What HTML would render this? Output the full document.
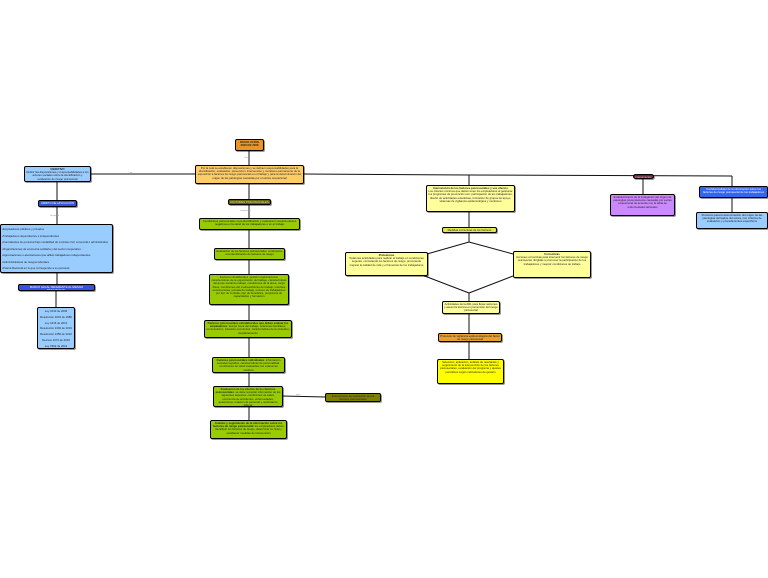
<!DOCTYPE html>
<html><head><meta charset="utf-8"><style>
html,body{margin:0;padding:0;background:#fff;width:768px;height:578px;overflow:hidden;position:relative;font-family:"Liberation Sans",sans-serif;}
.b{position:absolute;box-sizing:border-box;border:1.3px solid #000;border-radius:2px;font-size:2.8px;line-height:3.2px;text-align:center;color:#222;overflow:hidden;padding:1px;box-shadow:1px 1px 0 rgba(0,0,0,.4);}
.g{background:#99cc00;}
.y{background:#ffff99;}
.lb{background:#99ccff;}
.db{background:#3355dd;color:#fff;}
.ol{background:#666600;color:#ddd;}
.t{font-size:2.2px;color:#888;position:absolute;}
</style></head><body>
<svg width="768" height="578" style="position:absolute;left:0;top:0" xmlns="http://www.w3.org/2000/svg">
<g stroke="#111" stroke-width="1" fill="none">
<line x1="249" y1="150" x2="249" y2="165"/>
<line x1="90" y1="174" x2="195" y2="174"/>
<line x1="303" y1="174" x2="469" y2="175"/>
<line x1="469" y1="175" x2="732" y2="176"/>
<line x1="469" y1="175" x2="469" y2="185"/>
<line x1="643" y1="178" x2="643" y2="194"/>
<line x1="732" y1="176" x2="732" y2="186"/>
<line x1="732" y1="197" x2="732" y2="212"/>
<line x1="57" y1="181" x2="57" y2="200"/>
<line x1="57" y1="206" x2="57" y2="224"/>
<line x1="57" y1="272" x2="57" y2="284"/>
<line x1="56" y1="290" x2="56" y2="307"/>
<line x1="249" y1="183" x2="249" y2="420"/>
<line x1="282" y1="396" x2="325" y2="397"/>
<line x1="469" y1="211" x2="469" y2="242"/>
<line x1="469" y1="242" x2="427" y2="254"/>
<line x1="469" y1="242" x2="513" y2="254"/>
<line x1="422" y1="275" x2="469" y2="293"/>
<line x1="513" y1="276" x2="469" y2="293"/>
<line x1="469" y1="293" x2="469" y2="359"/>
</g></svg>
<div class="b" style="left:235px;top:139px;width:29px;height:12px;background:#e8962a;font-weight:bold;font-size:2.8px;color:#222;">RESOLUCIÓN 2646 DE 2008</div>
<div class="t" style="left:244px;top:157px;">Tiene</div>
<div class="b" style="left:195px;top:165px;width:109px;height:19px;background:#ffcc66;">Por la cual se establecen disposiciones y se definen responsabilidades para la identificación, evaluación, prevención, intervención y monitoreo permanente de la exposición a factores de riesgo psicosocial en el trabajo y para la determinación del origen de las patologías causadas por el estrés ocupacional</div>
<div class="b lb" style="left:24px;top:166px;width:67px;height:16px;"><b>OBJETIVO</b><br>Definir las disposiciones y responsabilidades a los actores sociales sobre la identificación y evaluación de riesgo psicosocial</div>
<div class="t" style="left:130px;top:172px;">es</div>
<div class="b db" style="left:38px;top:200px;width:39px;height:7px;">ÁMBITO DE APLICACIÓN</div>
<div class="t" style="left:50px;top:215px;">Se aplica</div>
<div class="b lb" style="left:0px;top:224px;width:113px;height:49px;text-align:left;line-height:6.5px;">•Empleadores públicos y privados<br>•Trabajadores dependientes e independientes<br>•Contratantes de personal bajo modalidad de contrato civil, comercial o administrativo<br>•Organizaciones de economía solidaria y del sector cooperativo<br>•Agremiaciones o asociaciones que afilian trabajadores independientes<br>•Administradoras de riesgos laborales<br>•Policía Nacional en lo que corresponde a su personal</div>
<div class="b db" style="left:18px;top:284px;width:77px;height:7px;">MARCO LEGAL REFERENTE AL RIESGO PSICOSOCIAL</div>
<div class="b lb" style="left:37px;top:307px;width:38px;height:42px;line-height:5.8px;">Ley 1010 de 2006<br>Resolución 1016 de 1989<br>Ley 1616 de 2013<br>Resolución 2404 de 2019<br>Resolución 1356 de 2012<br>Decreto 1072 de 2015<br>Ley 1562 de 2012</div>
<div class="b ol" style="left:228px;top:199px;width:43px;height:6px;">FACTORES PSICOSOCIALES</div>
<div class="t" style="left:240px;top:210px;">comprende</div>
<div class="b g" style="left:199px;top:218px;width:101px;height:12px;">Condiciones psicosociales cuya identificación y evaluación muestra efectos negativos en la salud de los trabajadores o en el trabajo</div>
<div class="b g" style="left:214px;top:248px;width:71px;height:12px;">Evaluación de los factores psicosociales, conducente a la identificación de factores de riesgo</div>
<div class="b g" style="left:209px;top:274px;width:80px;height:31px;">Factores intralaborales: gestión organizacional, características de la organización del trabajo, características del grupo social de trabajo, condiciones de la tarea, carga física, condiciones del medioambiente de trabajo, interfase persona-tarea, jornada de trabajo, número de trabajadores por tipo de contrato, tipo de beneficios, programas de capacitación y formación</div>
<div class="b g" style="left:204px;top:320px;width:88px;height:18px;"><b>Factores psicosociales extralaborales que deben evaluar los empleadores</b>: tiempo fuera del trabajo, relaciones familiares, comunicación, situación económica, características de la vivienda y desplazamiento</div>
<div class="b g" style="left:212px;top:357px;width:73px;height:16px;"><b>Factores psicosociales individuales</b>: información sociodemográfica, características de personalidad, condiciones de salud evaluadas con exámenes médicos</div>
<div class="b g" style="left:213px;top:386px;width:70px;height:21px;"><b>Evaluación de los efectos de los factores psicosociales</b>: se debe recopilar información de los siguientes aspectos: condiciones de salud, ocurrencia de accidentes, enfermedades, ausentismo, rotación de personal y rendimiento laboral</div>
<div class="t" style="left:296px;top:394px;">para</div>
<div class="b ol" style="left:325px;top:393px;width:56px;height:9px;color:#222;background:#808000;">Instrumentos de evaluación de los factores psicosociales</div>
<div class="b g" style="left:210px;top:420px;width:77px;height:19px;"><b>Análisis y seguimiento de la información sobre los factores de riesgo psicosocial</b>: los empleadores deben identificar los factores de riesgo, determinar su nivel y establecer medidas de intervención</div>
<div class="b y" style="left:426px;top:185px;width:89px;height:27px;"><b>Intervención de los factores psicosociales y sus efectos</b><br>Los criterios mínimos que deben tener los empleadores al gestionar los programas de prevención son: participación de los trabajadores, diseño de actividades educativas, formación de grupos de apoyo, sistemas de vigilancia epidemiológica y monitoreo</div>
<div class="b" style="left:442px;top:227px;width:55px;height:6px;background:#e6e64c;">Medidas correctivas de los factores</div>
<div class="b y" style="left:345px;top:252px;width:83px;height:24px;"><b>Protectoras</b><br>Todas las actividades para realizar el trabajo en condiciones seguras, controlando los factores de riesgo, procurando mejorar la calidad de vida y el bienestar de los trabajadores</div>
<div class="b y" style="left:513px;top:251px;width:78px;height:27px;"><b>Correctivas</b><br>Acciones correctivas para intervenir los factores de riesgo psicosocial, dirigidas a promover la participación de los trabajadores y mejorar condiciones de trabajo</div>
<div class="b y" style="left:442px;top:301px;width:58px;height:13px;">Actividades de la ARL para llevar acciones y asesoría técnica en prevención del riesgo psicosocial</div>
<div class="b" style="left:438px;top:333px;width:64px;height:9px;background:#e8a030;">Protocolo de vigilancia epidemiológica del factor de riesgo psicosocial</div>
<div class="b" style="left:437px;top:359px;width:67px;height:25px;background:#ffff00;">Selección, aplicación, análisis de resultados y seguimiento de la intervención de los factores psicosociales, evaluación del programa y ajustes periódicos según indicadores de gestión</div>
<div class="b" style="left:633px;top:174px;width:21px;height:5px;background:#662233;color:#ddd;border-radius:3px;">Instrumentos</div>
<div class="b" style="left:610px;top:194px;width:65px;height:22px;background:#cc88ff;">Establecimiento de la indagación del origen de patologías presuntamente causadas por estrés ocupacional de acuerdo con la tabla de enfermedades laborales</div>
<div class="b" style="left:699px;top:186px;width:69px;height:12px;background:#3366ee;color:#fff;">Confidencialidad de la información sobre los factores de riesgo psicosocial de los trabajadores</div>
<div class="b lb" style="left:696px;top:212px;width:72px;height:17px;">Protocolo para la determinación del origen de las patologías derivadas del estrés, con criterios de evaluación y procedimientos específicos</div>
</body></html>
